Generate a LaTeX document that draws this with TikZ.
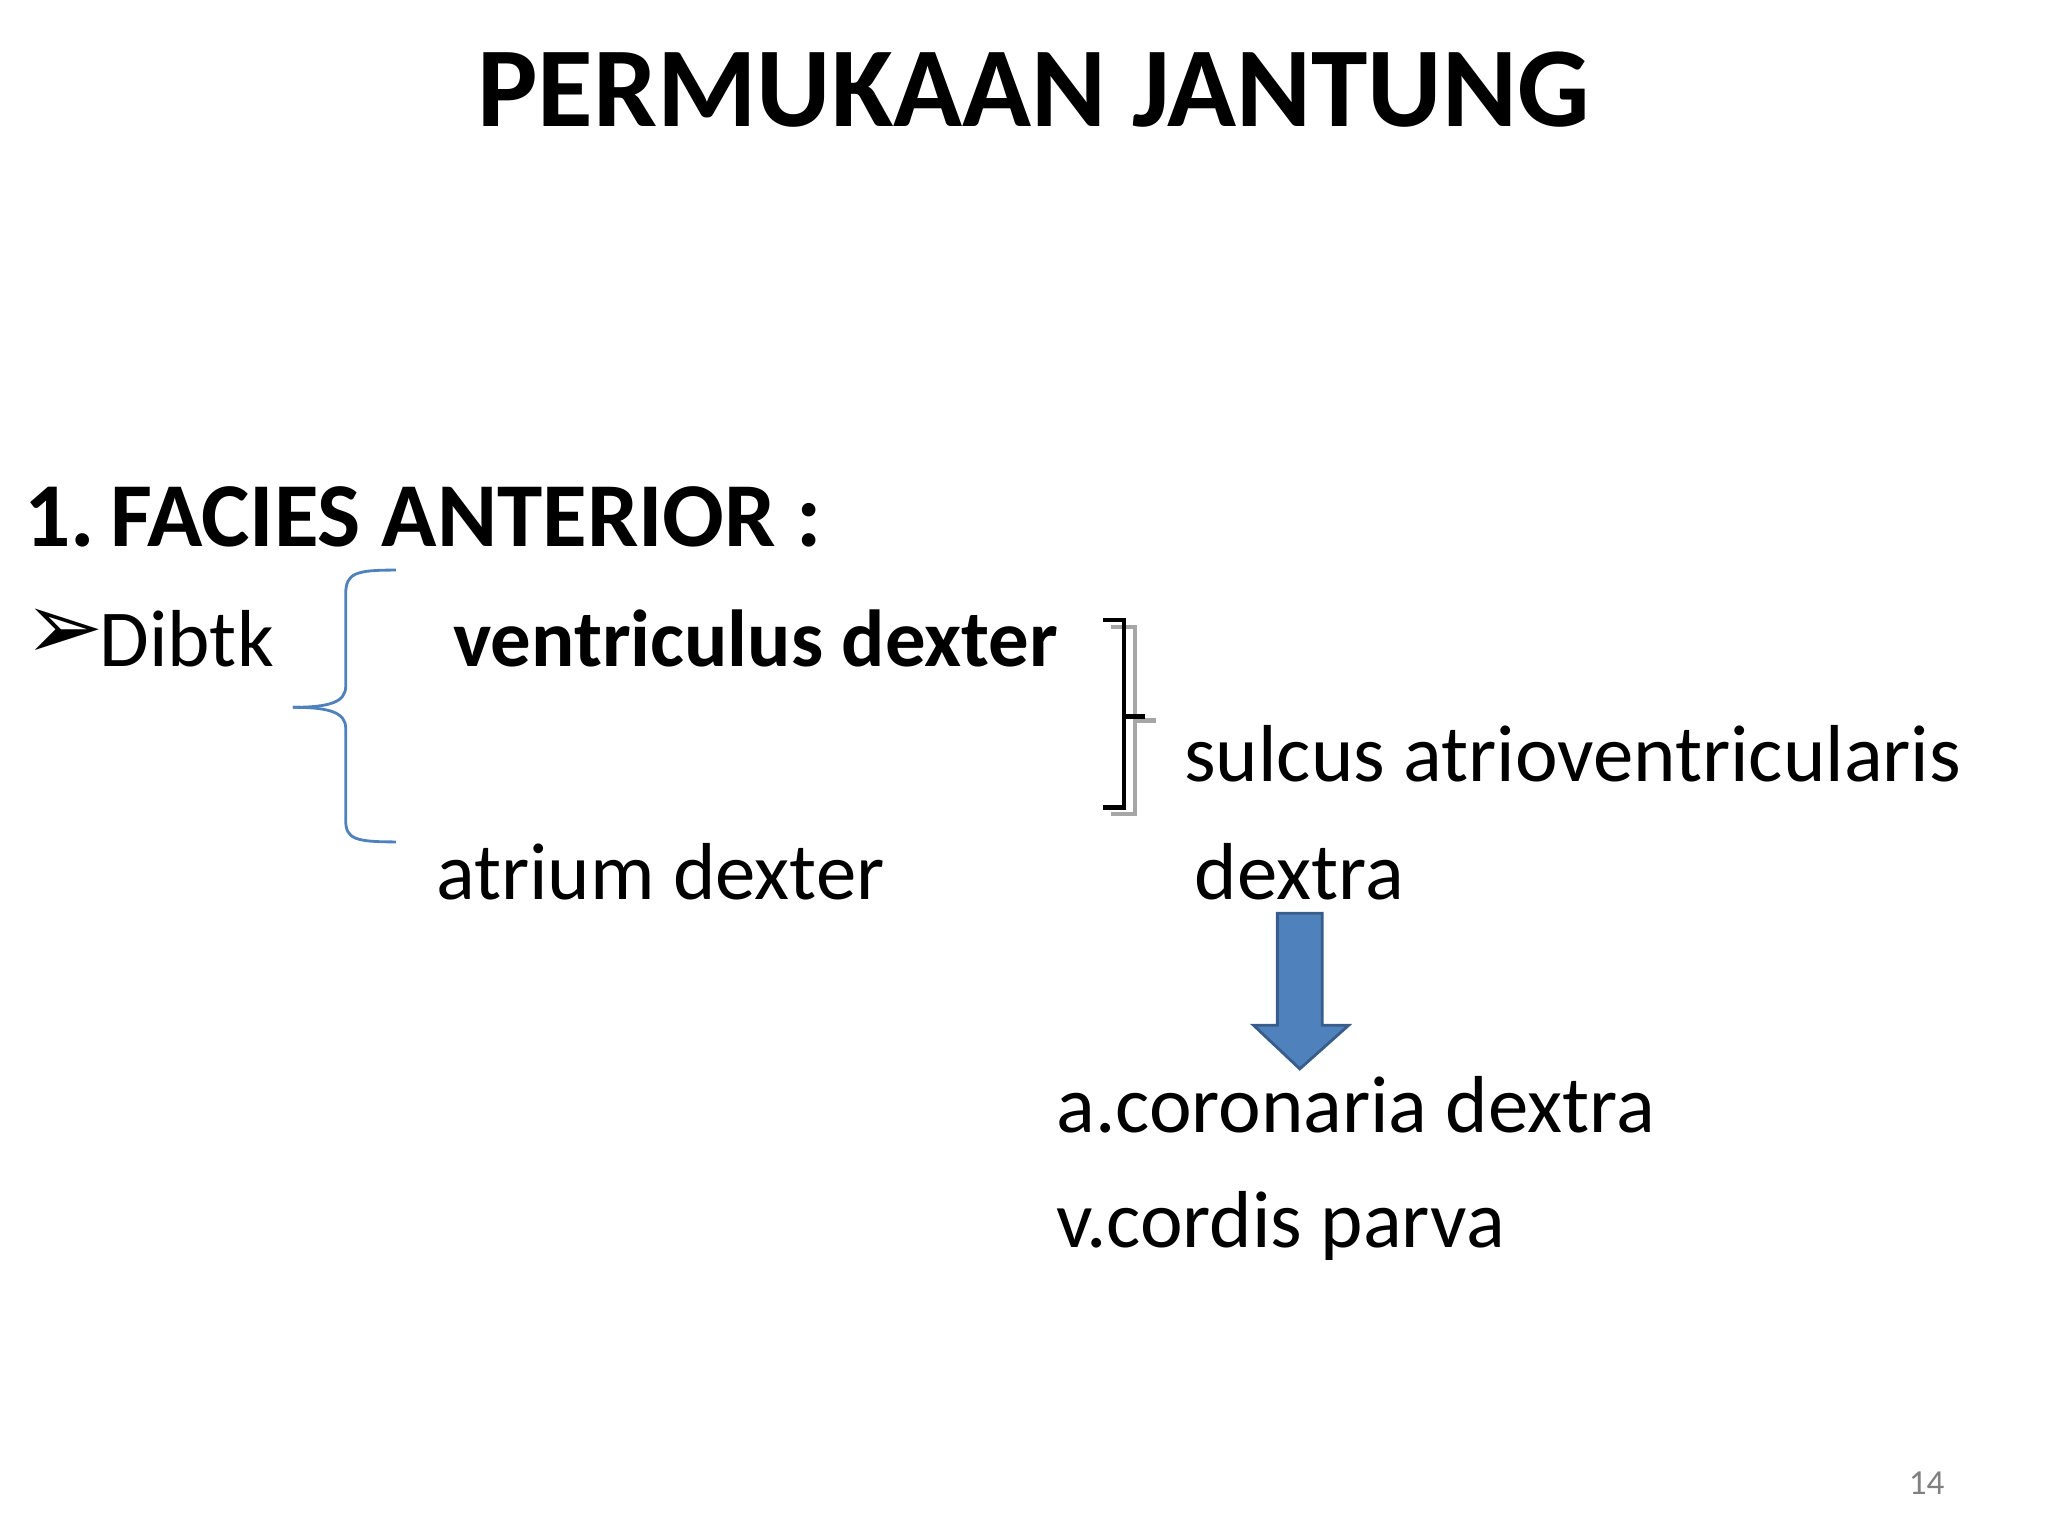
\documentclass[tikz,border=0pt]{standalone}
\usepackage{fontspec}
\setmainfont{Carlito}
\newfontfamily\symfont{DejaVu Sans}
\usetikzlibrary{positioning}
\definecolor{bracecol}{HTML}{4F81BD}
\definecolor{arrowline}{HTML}{385D8A}
\begin{document}
\begin{tikzpicture}[x=0.0132cm, y=-0.0132cm]
  \tikzset{
    txt/.style={anchor=base west, inner sep=0pt, font=\fontsize{23}{27}\selectfont},
    head/.style={anchor=base west, inner sep=0pt, font=\fontsize{26}{31}\selectfont\bfseries}
  }
  \useasboundingbox (0,0) rectangle (1552,1164);

  % Judul
  \node[inner sep=0pt, font=\fontsize{32.4}{38}\selectfont\bfseries] (judul) at (783,68) {PERMUKAAN JANTUNG};

  % Facies anterior
  \node[head] (facies) at (18,414) {1.\,FACIES ANTERIOR :};
  \node[txt, font=\fontsize{27}{30}\selectfont\symfont] (bullet) at (18,500) {➢};
  \node[txt] (dibtk) at (75,505) {Dibtk};
  \node[txt, font=\fontsize{23}{27}\selectfont\bfseries] (ventrikel) at (343,505) {ventriculus dexter};
  \node[txt] (atrium) at (330,682) {atrium dexter};
  \node[txt] (sulcus) at (897,592) {sulcus atrioventricularis};
  \node[txt] (dextra) at (905,682) {dextra};
  \node[txt] (arteri) at (800,858) {a.coronaria dextra};
  \node[txt] (vena) at (800,945) {v.cordis parva};
  \node[inner sep=0pt, font=\fontsize{10}{12}\selectfont, text=gray] (hal) at (1460,1124) {14};

  % Kurung kurawal biru
  \draw[bracecol, thick] (300,432) .. controls (270,432) and (262,434) .. (262,450)
    -- (262,520) .. controls (262,532) and (250,536) .. (222,536);
  \draw[bracecol, thick] (222,536) .. controls (250,536) and (262,540) .. (262,552)
    -- (262,622) .. controls (262,636) and (270,638) .. (300,638);

  % Kurung siku
  \draw[gray!70, very thick] (842,475) -- (860,475) -- (860,617) -- (842,617);
  \draw[gray!70, very thick] (860,546) -- (876,546);
  \draw[black, very thick] (836,470) -- (852,470) -- (852,612) -- (836,612);
  \draw[black, very thick] (852,543) -- (868,543);

  % Panah biru
  \draw[arrowline, thick, fill=bracecol] (968,692) -- (1002,692) -- (1002,777)
    -- (1022,777) -- (985,810) -- (950,777) -- (968,777) -- cycle;
\end{tikzpicture}
\end{document}
